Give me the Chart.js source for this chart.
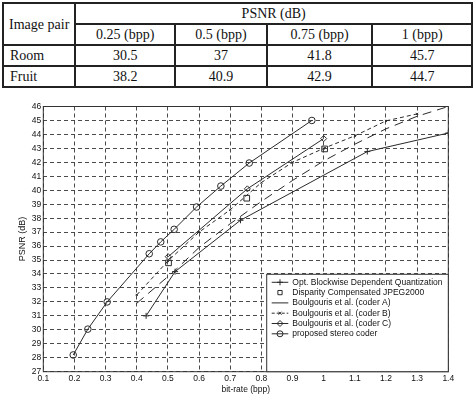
<!DOCTYPE html>
<html lang="en">
    <head>
        <meta charset="UTF-8">
        <title>PSNR vs bit-rate</title>
        <script src="https://cdn.jsdelivr.net/npm/chart.js"></script>
        <style>
            body {
                margin: 0;
                background-color: #fff;
                width: 474px;
                height: 395px;
                overflow: hidden;
                position: relative;
            }
            table {
                position: absolute;
                left: 2px;
                top: 2px;
                width: 471px;
                border-collapse: collapse;
                font-family: "Liberation Serif", "Times New Roman", serif;
                font-size: 14px;
                color: #111;
            }
            td {
                border: 2px solid #222;
                text-align: center;
                padding: 0;
                height: 19px;
                line-height: 17px;
            }
            td.name {
                text-align: left;
                padding-left: 6px;
            }
            .chart-container {
                position: absolute;
                left: 0;
                top: 95px;
                width: 474px;
                height: 300px;
            }
        </style>
    </head>
<body>
    <table id="psnrTable"></table>
    <div class="chart-container">
        <canvas id="chartCanvas" width="474" height="300"></canvas>
    </div>
    <script>
        // table values
        const tableRates = ['0.25 (bpp)', '0.5 (bpp)', '0.75 (bpp)', '1 (bpp)'];
        const tableRows = ['Room', 'Fruit'];
        const roomPsnr = [30.5, 37, 41.8, 45.7];
        const fruitPsnr = [38.2, 40.9, 42.9, 44.7];

        // chart values (bit-rate in bpp, PSNR in dB)
        const xTicks = [0.1, 0.2, 0.3, 0.4, 0.5, 0.6, 0.7, 0.8, 0.9, 1, 1.1, 1.2, 1.3, 1.4];
        const yTicks = [27, 28, 29, 30, 31, 32, 33, 34, 35, 36, 37, 38, 39, 40, 41, 42, 43, 44, 45, 46];

        const optRate = [0.43, 0.523, 0.733, 1.14, 1.4];
        const optPsnr = [31.0, 34.17, 37.85, 42.77, 44.1];

        const dcRate = [0.502, 0.753, 1.003];
        const dcPsnr = [34.8, 39.43, 42.96];

        const coderARate = [0.4, 0.52, 0.6, 0.7, 0.8, 0.9, 1.0, 1.1, 1.2, 1.3, 1.4];
        const coderAPsnr = [31.9, 34.2, 35.9, 37.6, 39.2, 40.7, 42.1, 43.3, 44.4, 45.3, 46.0];

        const coderBRate = [0.4, 0.5, 0.6, 0.7, 0.8, 0.9, 1.0, 1.1, 1.2, 1.3];
        const coderBPsnr = [32.5, 34.93, 37.0, 38.6, 40.55, 42.0, 43.0, 43.9, 44.97, 45.47];

        const coderCRate = [0.501, 0.755, 1.0];
        const coderCPsnr = [35.24, 40.1, 43.7];

        const propRate = [0.196, 0.243, 0.305, 0.44, 0.477, 0.52, 0.592, 0.67, 0.761, 0.962];
        const propPsnr = [28.2, 30.05, 32.0, 35.45, 36.3, 37.2, 38.8, 40.3, 41.95, 45.0];

        // build the table
        const table = document.getElementById('psnrTable');
        let html = '<tr><td rowspan="2" style="width:71px">Image pair</td>' +
            '<td colspan="4">PSNR (dB)</td></tr><tr>';
        const colW = [99, 91, 105, 99];
        tableRates.forEach((r, i) => { html += `<td style="width:${colW[i]}px">${r}</td>`; });
        html += '</tr>';
        [roomPsnr, fruitPsnr].forEach((vals, i) => {
            html += `<tr><td class="name">${tableRows[i]}</td>`;
            vals.forEach(v => { html += `<td>${v}</td>`; });
            html += '</tr>';
        });
        table.innerHTML = html;

        const pts = (xs, ys) => xs.map((x, i) => ({ x: x, y: ys[i] }));
        const ink = '#2a2a2a';

        const datasets = [
            {
                label: 'Opt. Blockwise Dependent Quantization',
                data: pts(optRate, optPsnr),
                showLine: true,
                borderColor: ink,
                borderWidth: 1,
                pointStyle: 'cross',
                pointRadius: 3,
                pointBorderColor: ink,
                pointBackgroundColor: 'transparent'
            },
            {
                label: 'Disparity Compensated JPEG2000',
                data: pts(dcRate, dcPsnr),
                showLine: false,
                borderColor: ink,
                borderWidth: 1,
                pointStyle: 'rect',
                pointRadius: 4,
                pointBorderColor: ink,
                pointBackgroundColor: 'transparent'
            },
            {
                label: 'Boulgouris et al. (coder A)',
                data: pts(coderARate, coderAPsnr),
                showLine: true,
                borderColor: ink,
                borderWidth: 1,
                borderDash: [9, 6],
                legendDash: [],
                pointRadius: 0
            },
            {
                label: 'Boulgouris et al. (coder B)',
                data: pts(coderBRate, coderBPsnr),
                showLine: true,
                borderColor: ink,
                borderWidth: 1,
                borderDash: [4, 3],
                legendDash: [3, 2],
                pointStyle: 'crossRot',
                pointRadius: 1.5,
                pointBorderColor: ink,
                pointBackgroundColor: 'transparent'
            },
            {
                label: 'Boulgouris et al. (coder C)',
                data: pts(coderCRate, coderCPsnr),
                showLine: true,
                borderColor: ink,
                borderWidth: 1,
                pointStyle: 'rectRot',
                pointRadius: 3,
                pointBorderColor: ink,
                pointBackgroundColor: 'transparent'
            },
            {
                label: 'proposed stereo coder',
                data: pts(propRate, propPsnr),
                showLine: true,
                borderColor: ink,
                borderWidth: 1,
                pointStyle: 'circle',
                pointRadius: 3.3,
                pointBorderColor: ink,
                pointBackgroundColor: 'transparent'
            }
        ];

        function drawMarker(ctx, style, r, x, y) {
            ctx.beginPath();
            if (style === 'circle') {
                ctx.arc(x, y, r, 0, Math.PI * 2);
            } else if (style === 'rect') {
                const s = r * Math.SQRT1_2;
                ctx.rect(x - s, y - s, 2 * s, 2 * s);
            } else if (style === 'rectRot') {
                ctx.moveTo(x - r, y); ctx.lineTo(x, y - r);
                ctx.lineTo(x + r, y); ctx.lineTo(x, y + r); ctx.closePath();
            } else if (style === 'cross') {
                ctx.moveTo(x - r, y); ctx.lineTo(x + r, y);
                ctx.moveTo(x, y - r); ctx.lineTo(x, y + r);
            } else if (style === 'crossRot') {
                ctx.moveTo(x - r, y - r); ctx.lineTo(x + r, y + r);
                ctx.moveTo(x + r, y - r); ctx.lineTo(x - r, y + r);
            }
            ctx.stroke();
        }

        // frame round the plot area, drawn before the data
        const frame = {
            id: 'frame',
            beforeDatasetsDraw(chart) {
                const { ctx, chartArea: a } = chart;
                ctx.save();
                ctx.strokeStyle = '#333';
                ctx.lineWidth = 1;
                ctx.strokeRect(a.left, a.top, a.right - a.left, a.bottom - a.top);
                ctx.restore();
            }
        };

        // legend box in the lower right corner of the plot
        const legendBox = {
            id: 'legendBox',
            afterDraw(chart) {
                const { ctx, chartArea: a } = chart;
                const w = 181.6, h = 97.4;
                const x0 = a.right - w, y0 = a.bottom - h;
                ctx.save();
                ctx.fillStyle = '#fff';
                ctx.fillRect(x0, y0, w, h);
                ctx.strokeStyle = '#333';
                ctx.lineWidth = 1;
                ctx.strokeRect(x0, y0, w, h);
                ctx.font = '8.5px "Liberation Sans", Arial, sans-serif';
                ctx.textBaseline = 'middle';
                chart.data.datasets.forEach((ds, i) => {
                    const y = y0 + 8 + i * 10.3;
                    ctx.strokeStyle = ink;
                    ctx.lineWidth = 1;
                    if (ds.showLine) {
                        ctx.setLineDash(ds.legendDash || []);
                        ctx.beginPath();
                        ctx.moveTo(x0 + 5, y);
                        ctx.lineTo(x0 + 21.6, y);
                        ctx.stroke();
                        ctx.setLineDash([]);
                    }
                    if (ds.pointRadius > 0) {
                        drawMarker(ctx, ds.pointStyle, Math.min(ds.pointRadius, 3), x0 + 13.3, y);
                    }
                    ctx.fillStyle = '#111';
                    ctx.fillText(ds.label, x0 + 25.6, y);
                });
                ctx.restore();
            }
        };

        const tickFont = { family: '"Liberation Sans", Arial, sans-serif', size: 8.5 };
        const fmt = v => String(Number(v.toFixed(1)));

        const ctx = document.getElementById('chartCanvas').getContext('2d');
        new Chart(ctx, {
            type: 'scatter',
            data: { datasets: datasets },
            plugins: [frame, legendBox],
            options: {
                responsive: false,
                animation: false,
                layout: { padding: { top: 11.5, right: 25.7, left: 0, bottom: 0 } },
                plugins: {
                    legend: { display: false },
                    tooltip: { enabled: false }
                },
                elements: { line: { tension: 0 } },
                scales: {
                    x: {
                        type: 'linear',
                        min: 0.1,
                        max: 1.4,
                        afterBuildTicks: s => { s.ticks = xTicks.map(v => ({ value: v })); },
                        afterFit: s => { s.height = 23.3; },
                        grid: { color: '#4a4a4a', lineWidth: 1, drawTicks: false },
                        border: { display: false, dash: [4, 3] },
                        ticks: { font: tickFont, color: '#111', padding: 2, maxRotation: 0, autoSkip: false, callback: fmt },
                        title: { display: true, text: 'bit-rate (bpp)', font: tickFont, color: '#111', padding: { top: 0, bottom: 0.6 } }
                    },
                    y: {
                        type: 'linear',
                        min: 27,
                        max: 46,
                        afterBuildTicks: s => { s.ticks = yTicks.map(v => ({ value: v })); },
                        afterFit: s => { s.width = 43.3; },
                        grid: { color: '#4a4a4a', lineWidth: 1, drawTicks: false },
                        border: { display: false, dash: [4, 3] },
                        ticks: { font: tickFont, color: '#111', padding: 2, autoSkip: false, callback: fmt },
                        title: { display: true, text: 'PSNR (dB)', font: { family: tickFont.family, size: 9 }, color: '#111', padding: { top: 17.3, bottom: 0 } }
                    }
                }
            }
        });
    </script>
</body>
</html>
